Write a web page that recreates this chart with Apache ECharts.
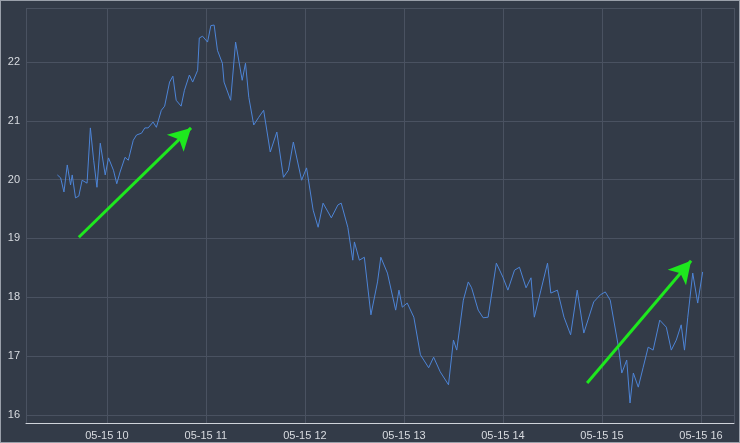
<!DOCTYPE html>
<html><head><meta charset="utf-8">
<script src="https://cdn.jsdelivr.net/npm/echarts@6/dist/echarts.min.js"></script>
<style>html,body{margin:0;padding:0;background:#333b48}#c{width:738px;height:441px;border:1px solid #9aa0aa}</style>
</head><body><div id="c"></div>
<script>
const times = ["09:30","09:32","09:34","09:36","09:38","09:39","09:41","09:43","09:45","09:48","09:50","09:52","09:54","09:56","09:59","10:01","10:04","10:06","10:08","10:11","10:13","10:16","10:18","10:21","10:23","10:25","10:28","10:30","10:33","10:35","10:38","10:40","10:42","10:45","10:47","10:50","10:52","10:55","10:56","10:58","11:01","11:03","11:05","11:07","11:10","11:11","11:15","11:18","11:22","11:24","11:26","11:29","11:32","11:35","11:39","11:43","11:47","11:50","11:53","11:58","12:01","12:05","12:08","12:11","12:16","12:20","12:22","12:26","12:29","12:30","12:33","12:36","12:40","12:44","12:46","12:50","12:55","12:57","12:59","13:02","13:06","13:10","13:15","13:18","13:22","13:27","13:30","13:32","13:36","13:39","13:41","13:45","13:48","13:51","13:56","14:00","14:03","14:07","14:10","14:14","14:17","14:19","14:23","14:27","14:29","14:33","14:37","14:41","14:45","14:49","14:55","14:59","15:02","15:05","15:10","15:12","15:15","15:17","15:19","15:22","15:25","15:28","15:31","15:35","15:39","15:42","15:45","15:48","15:50","15:52","15:55","15:58","16:01"];
const values = [20.08,20.03,19.79,20.25,19.91,20.08,19.69,19.72,19.99,19.94,20.88,20.33,19.87,20.62,20.08,20.37,20.16,19.93,20.13,20.38,20.33,20.67,20.76,20.79,20.88,20.88,20.98,20.89,21.18,21.25,21.66,21.76,21.35,21.25,21.52,21.78,21.66,21.86,22.41,22.44,22.34,22.62,22.63,22.20,21.98,21.66,21.35,22.34,21.69,21.98,21.40,20.93,21.06,21.18,20.47,20.81,20.04,20.16,20.64,19.99,20.20,19.48,19.19,19.60,19.35,19.57,19.60,19.19,18.63,18.94,18.63,18.68,17.70,18.26,18.68,18.41,17.78,18.12,17.83,17.90,17.66,17.02,16.80,16.98,16.73,16.51,17.27,17.10,17.95,18.26,18.16,17.78,17.65,17.66,18.58,18.34,18.12,18.46,18.51,18.16,18.33,17.66,18.12,18.58,18.07,18.12,17.66,17.36,18.12,17.39,17.92,18.04,18.09,17.95,17.15,16.71,16.93,16.20,16.71,16.47,16.81,17.15,17.10,17.61,17.49,17.10,17.27,17.53,17.10,17.66,18.41,17.90,18.43];
const arrows = [[["09:43",19.02],["10:51",20.88]],[["14:51",16.54],["15:54",18.62]]];
const day = "2024-05-15 ";
const ts = t => new Date(day + t + ":00").getTime();
const chart = echarts.init(document.getElementById('c'));
chart.setOption({
  backgroundColor:'#333b48',
  animation:false,
  grid:{left:25,right:5,top:7,bottom:19},
  xAxis:{type:'time',min:ts("09:11"),max:ts("16:20"),interval:3600000,
    axisLine:{lineStyle:{color:'#cfd3da'}},axisTick:{show:false},
    splitLine:{show:true,lineStyle:{color:'#4a5261'}},
    axisLabel:{color:'#d8dbe0',fontSize:11,margin:7,showMinLabel:false,showMaxLabel:false,
      formatter:v=>{const d=new Date(v);return '05-15 '+String(d.getHours()).padStart(2,'0');}}},
  yAxis:{type:'value',min:15.86,max:22.92,splitNumber:7,
    axisLine:{show:false},axisTick:{show:false},
    splitLine:{lineStyle:{color:'#4a5261'}},
    axisLabel:{color:'#d8dbe0',fontSize:11,margin:6,showMinLabel:false,showMaxLabel:false,
      formatter:v=>Math.abs(v-Math.round(v))<0.01?String(Math.round(v)):''}},
  series:[{type:'line',showSymbol:false,data:times.map((t,i)=>[ts(t),values[i]]),
    lineStyle:{color:'#4d84d6',width:1},
    markLine:{silent:true,symbol:['none','arrow'],symbolSize:[18,22],label:{show:false},
      lineStyle:{color:'#1ee81e',width:3,type:'solid'},
      data:arrows.map(a=>[{coord:[ts(a[0][0]),a[0][1]]},{coord:[ts(a[1][0]),a[1][1]]}])}}]
});
</script></body></html>
